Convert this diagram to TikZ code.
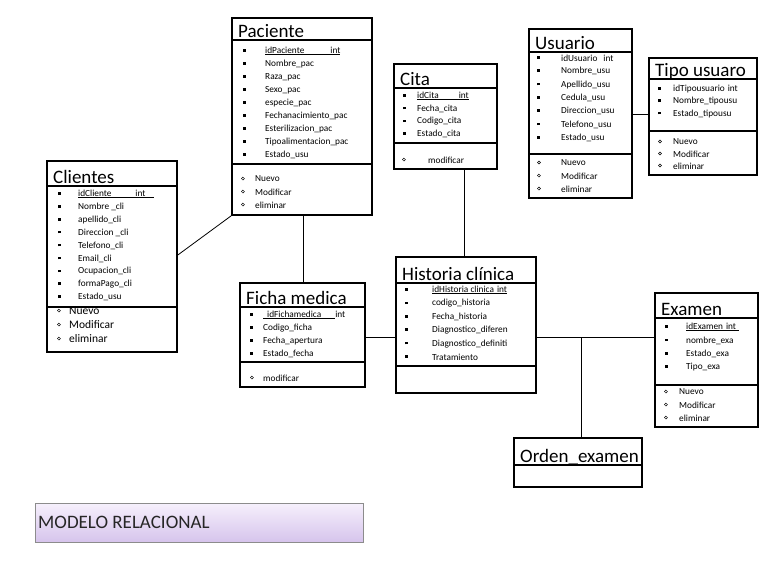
\documentclass[tikz,border=0pt]{standalone}
\usepackage{fontspec}
\setmainfont{Carlito}
\begin{document}
\begin{tikzpicture}[x=1pt,y=-1pt,
  box/.style={draw,line width=1.6pt,inner sep=0pt},
  sep/.style={line width=1.2pt},
  conn/.style={line width=0.8pt},
  ttl/.style={anchor=base west,font=\fontsize{19}{19}\selectfont,inner sep=0pt},
  itm/.style={anchor=west,font=\fontsize{9.3}{10}\selectfont,inner sep=0pt}]
\useasboundingbox (0,0) rectangle (768,576);
\newcommand{\clsbox}[8]{%
  \node[box,minimum width={#4-#2},minimum height={#5-#3}] (#1) at ({(#2+#4)/2},{(#3+#5)/2}) {};
  \draw[sep] (#2,#6) -- (#4,#6);
  \ifx\relax#7\relax\else\draw[sep] (#2,#7) -- (#4,#7);\fi
  \node[ttl] (#1t) at ({#2+6},{#6-3}) {#8};}
\newcommand{\itemlist}[6]{%
  \foreach \t [count=\i from 0] in {#6} {
    \node[itm] at (#1,{#3+\i*#4}) {#5};
    \node[itm] at (#2,{#3+\i*#4}) {\t};}}
\def\sq{\rule[0.25ex]{2.6pt}{2.6pt}}
\def\ci{\raisebox{0.2ex}{\tikz\draw[line width=0.5pt] (0,0) circle (1.5pt);}}

% Paciente
\clsbox{pac}{232}{18}{372}{215}{40}{164}{Paciente}
\itemlist{243}{265}{51}{13}{\sq}{\underline{idPaciente\hspace{26pt}int},Nombre\_pac,Raza\_pac,Sexo\_pac,especie\_pac,Fechanacimiento\_pac,Esterilizacion\_pac,Tipoalimentacion\_pac,Estado\_usu}
\itemlist{241}{255}{179}{13}{\ci}{Nuevo,Modificar,eliminar}

% Cita
\clsbox{cit}{394}{64}{497}{169}{88}{143}{Cita}
\itemlist{403}{417}{96}{12.7}{\sq}{\underline{idCita\hspace{20pt}int},Fecha\_cita,Codigo\_cita,Estado\_cita}
\itemlist{402}{428}{160}{13}{\ci}{modificar}

% Usuario
\clsbox{usu}{529}{29}{632}{198}{52}{154}{Usuario}
\itemlist{537}{561}{58}{13.3}{\sq}{idUsuario\hspace{6pt}int,Nombre\_usu,Apellido\_usu,Cedula\_usu,Direccion\_usu,Telefono\_usu,Estado\_usu}
\itemlist{537}{561}{163}{13}{\ci}{Nuevo,Modificar,eliminar}

% Tipo usuaro
\clsbox{tip}{649}{58}{757}{175}{79}{131}{Tipo usuaro}
\itemlist{658}{673}{89}{12.3}{\sq}{idTipousuario\hspace{3pt}int,Nombre\_tipousu,Estado\_tipousu}
\itemlist{658}{673}{142}{12}{\ci}{Nuevo,Modificar,eliminar}

% Clientes
\clsbox{cli}{47}{161}{177}{352}{186}{307}{Clientes}
\itemlist{58}{78}{194}{12.9}{\sq}{\underline{idCliente\hspace{24pt}int\hspace{8pt}},Nombre \_cli,apellido\_cli,Direccion \_cli,Telefono\_cli,Email\_cli,Ocupacion\_cli,formaPago\_cli,Estado\_usu}
\foreach \t [count=\i from 0] in {Nuevo,Modificar,eliminar} {
  \node[itm] at (57,{311+\i*14}) {\ci};
  \node[itm,font=\fontsize{11.5}{12}\selectfont] at (69,{311+\i*14}) {\t};}

% Ficha medica
\clsbox{fic}{240}{283}{365}{387}{307}{362}{Ficha medica}
\itemlist{250}{263}{315}{13}{\sq}{\underline{\hspace{4pt}idFichamedica\hspace{14pt}}int,Codigo\_ficha,Fecha\_apertura,Estado\_fecha}
\itemlist{250}{263}{378}{13}{\ci}{modificar}

% Historia clinica
\clsbox{his}{396}{257}{536}{393}{283}{366}{Historia clínica}
\itemlist{405}{432}{290}{13.4}{\sq}{\underline{idHistoria clinica\hspace{3pt}int},codigo\_historia,Fecha\_historia,Diagnostico\_diferen,Diagnostico\_definiti,Tratamiento}

% Examen
\clsbox{exa}{655}{293}{758}{427}{318}{385}{Examen}
\itemlist{665}{686}{327}{13.4}{\sq}{\underline{idExamen\hspace{3pt}int\hspace{3pt}},nombre\_exa,Estado\_exa,Tipo\_exa}
\itemlist{664}{679}{392}{13}{\ci}{Nuevo,Modificar,eliminar}

% Orden examen
\clsbox{ord}{514}{438}{642}{487}{465}{}{Orden\_examen}

% connectors
\coordinate (j) at (581,337);
\draw[conn] (usu.east |- 0,114) -- (tip.west |- 0,114);
\draw[conn] (cli.east |- 0,255) -- (pac.south west);
\draw[conn] (pac.south -| 303,0) -- (fic.north -| 303,0);
\draw[conn] (cit.south -| 464,0) -- (his.north -| 464,0);
\draw[conn] (fic.east |- 0,337) -- (his.west |- 0,337);
\draw[conn] (his.east |- 0,337) -- (exa.west |- 0,337);
\draw[conn] (j) -- (ord.north -| j);

% title banner
\definecolor{lavtop}{RGB}{246,240,252}
\definecolor{lavbot}{RGB}{214,196,236}
\node[draw=black!45,line width=0.8pt,top color=lavtop,bottom color=lavbot,minimum width=328,minimum height=39,inner sep=0pt] (banner) at (199,522.5) {};
\node[anchor=west,font=\fontsize{19}{19}\selectfont,text=black!85,inner sep=0pt] (bannert) at (38,522.5) {MODELO RELACIONAL};
\end{tikzpicture}
\end{document}
